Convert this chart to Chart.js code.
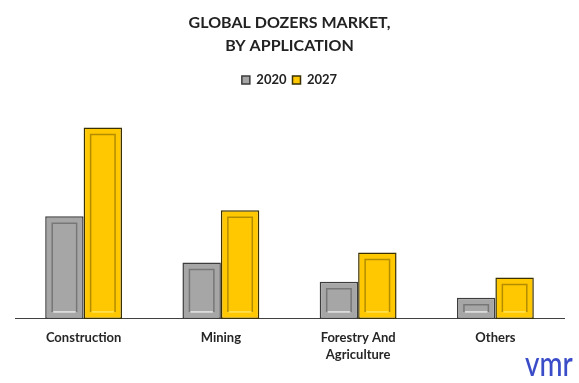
<!DOCTYPE html>
<html>
<head>
<meta charset="utf-8">
<script src="https://cdn.jsdelivr.net/npm/chart.js@4.4.1/dist/chart.umd.min.js"></script>
<style>
  html, body { margin: 0; padding: 0; background: #ffffff; }
  #wrap { width: 579px; height: 383px; position: relative; }
</style>
</head>
<body>
<div id="wrap"><canvas id="c"></canvas></div>
<script>
const categories = ['Construction', 'Mining', ['Forestry And', 'Agriculture'], 'Others'];
const seriesNames = ['2020', '2027'];
const values2020 = [102, 56, 37, 21];
const values2027 = [190, 108, 66, 41];
const titleLines = ['GLOBAL DOZERS MARKET,', 'BY APPLICATION'];
const logoText = 'vmr';

const FONT = "Lato, 'Open Sans', sans-serif";

const bevel = {
  id: 'bevel',
  afterDatasetsDraw(chart) {
    const ctx = chart.ctx;
    chart.data.datasets.forEach((ds, i) => {
      const meta = chart.getDatasetMeta(i);
      meta.data.forEach(bar => {
        const p = bar.getProps(['x', 'y', 'base', 'width'], true);
        const l = p.x - p.width / 2 + 7, r = p.x + p.width / 2 - 7;
        const t = p.y + 7, b = p.base - 7;
        if (b - t < 2) return;
        ctx.save();
        ctx.lineWidth = 1.5;
        ctx.strokeStyle = ds.innerDark;
        ctx.beginPath();
        ctx.moveTo(l, b); ctx.lineTo(l, t); ctx.lineTo(r, t); ctx.lineTo(r, b);
        ctx.stroke();
        ctx.strokeStyle = ds.innerLight;
        ctx.lineWidth = 1.5;
        ctx.beginPath();
        ctx.moveTo(l + 1, b); ctx.lineTo(r - 1, b);
        ctx.stroke();
        ctx.restore();
      });
    });
  }
};

const logo = {
  id: 'logo',
  afterDraw(chart) {
    const ctx = chart.ctx;
    ctx.save();
    ctx.translate(525, 376);
    ctx.scale(0.82, 1);
    ctx.font = "500 34px Lato, sans-serif";
    ctx.fillStyle = '#3a4cc8';
    ctx.textBaseline = 'alphabetic';
    ctx.textAlign = 'left';
    ctx.fillText(logoText, 0, 0);
    ctx.restore();
  }
};

new Chart(document.getElementById('c'), {
  type: 'bar',
  data: {
    labels: categories,
    datasets: [
      {
        label: seriesNames[0],
        data: values2020,
        backgroundColor: '#a6a6a6',
        borderColor: '#3c3c3c',
        borderWidth: 1.5,
        borderSkipped: false,
        innerDark: '#777777',
        innerLight: '#e6e6e6'
      },
      {
        label: seriesNames[1],
        data: values2027,
        backgroundColor: '#ffc800',
        borderColor: '#3a3000',
        borderWidth: 1.5,
        borderSkipped: false,
        innerDark: '#b48c00',
        innerLight: '#ffe45a'
      }
    ]
  },
  options: {
    responsive: true,
    maintainAspectRatio: false,
    animation: false,
    devicePixelRatio: 1,
    layout: { padding: { left: 15, right: 15, top: 0, bottom: 9 } },
    datasets: { bar: { categoryPercentage: 0.56, barPercentage: 1 } },
    plugins: {
      title: {
        display: true,
        text: titleLines,
        color: '#222222',
        font: { family: FONT, size: 16, weight: 'bold', lineHeight: 1.45 },
        padding: { top: 11, bottom: 10 }
      },
      legend: {
        display: true,
        position: 'top',
        labels: {
          color: '#222222',
          font: { family: FONT, size: 13, weight: 'bold' },
          boxWidth: 8,
          boxHeight: 8,
          padding: 6
        }
      },
      tooltip: { enabled: false }
    },
    scales: {
      x: {
        grid: { display: false, drawTicks: false },
        border: { display: true, color: '#404040', width: 1 },
        ticks: {
          color: '#262626',
          font: { family: FONT, size: 13, weight: 'bold', lineHeight: 1.35 },
          padding: 10,
          maxRotation: 0,
          autoSkip: false
        }
      },
      y: {
        display: false,
        min: 0,
        max: 221
      }
    }
  },
  plugins: [bevel, logo]
});
</script>
</body>
</html>
